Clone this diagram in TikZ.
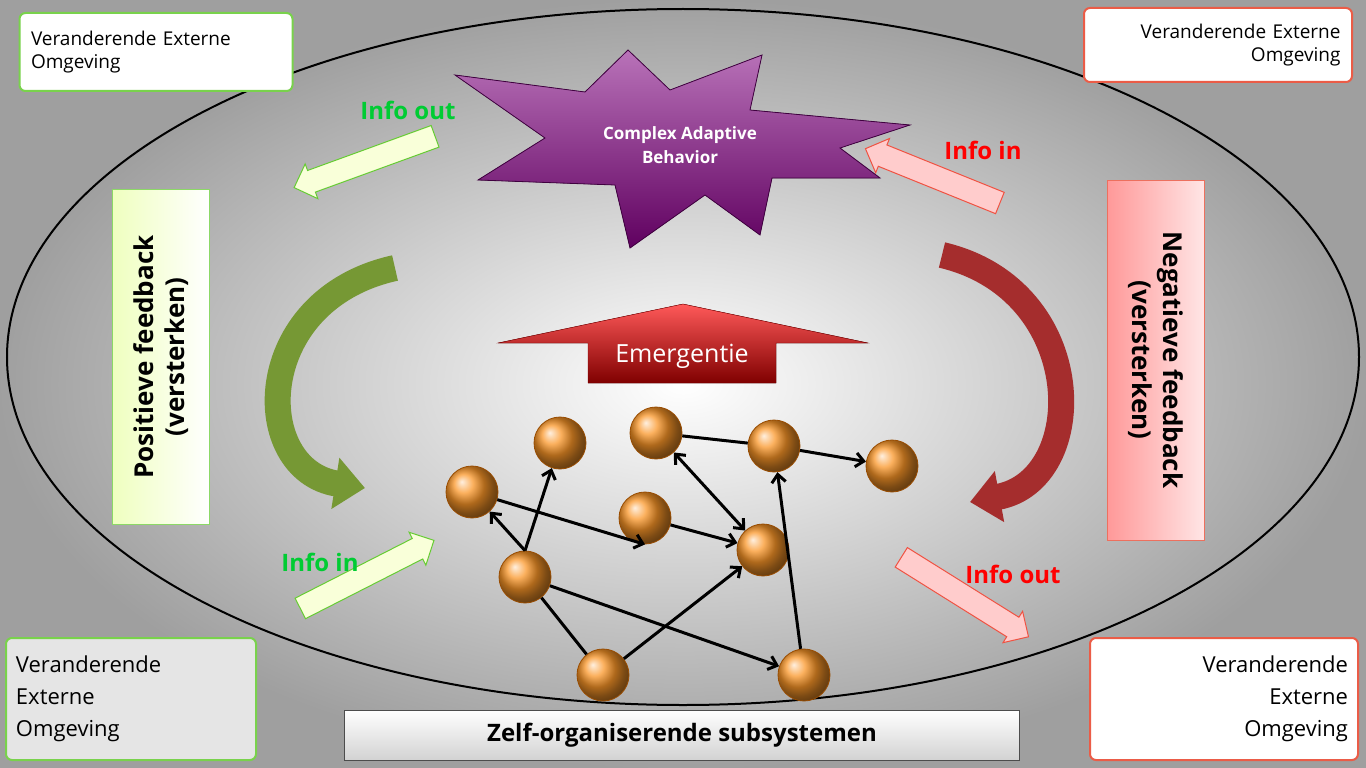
\documentclass[tikz,border=0pt]{standalone}
\usepackage{fontspec}
\setmainfont{Open Sans}
\usetikzlibrary{shapes.arrows,shapes.geometric,arrows.meta,shadings}
\definecolor{olivegreen}{RGB}{118,152,52}
\definecolor{darkred}{RGB}{165,45,45}
\definecolor{ballorange}{RGB}{250,150,40}
\begin{document}
\begin{tikzpicture}[x=1pt,y=-1pt,
  ball/.style={circle,minimum size=52pt,inner sep=0pt,ball color=ballorange,draw=orange!60!black,line width=0.8pt},
  edge/.style={line width=3pt,-{Straight Barb[length=8pt,width=14pt]}},
  dedge/.style={line width=3pt,{Straight Barb[length=8pt,width=14pt]}-{Straight Barb[length=8pt,width=14pt]}},
  plain/.style={line width=3pt},
  envg/.style={draw=green!50!olive!70,line width=2pt,rounded corners=6pt,fill=white,font=\fontsize{19}{23}\selectfont,align=left,inner sep=0pt},
  envr/.style={draw=red!60!brown!80,line width=2pt,rounded corners=6pt,fill=white,font=\fontsize{19}{23}\selectfont,inner sep=0pt},
  ginfo/.style={single arrow,draw=green!50!olive!80,fill=green!15!yellow!15,single arrow head extend=7pt,single arrow tip angle=90,inner sep=0pt,line width=1pt},
  rinfo/.style={single arrow,draw=red!70!brown!80,fill=red!20,single arrow head extend=7pt,single arrow tip angle=90,inner sep=0pt,line width=1pt},
  lbl/.style={font=\bfseries\fontsize{24}{28}\selectfont}]
\useasboundingbox (0,0) rectangle (1366,768);
\shade[inner color=white,outer color=gray!75] (0,0) rectangle (1366,768);
\node[draw,ellipse,line width=2pt,minimum width=1352pt,minimum height=696pt] (ell) at (683,357) {};
% env boxes
\node[envg,minimum width=273pt,minimum height=78pt,text width=250pt] (e1) at (156,52) {Veranderende Externe\\Omgeving};
\node[envr,minimum width=268pt,minimum height=74pt,align=right,text width=245pt] (e2) at (1218,45) {Veranderende Externe\\Omgeving};
\node[envg,fill=gray!20,minimum width=250pt,minimum height=122pt,text width=230pt,font=\fontsize{22}{32}\selectfont] (e3) at (131,699) {Veranderende\\Externe\\Omgeving};
\node[envr,fill=white,minimum width=268pt,minimum height=122pt,align=right,text width=248pt,font=\fontsize{22}{32}\selectfont] (e4) at (1224,699) {Veranderende\\Externe\\Omgeving};
% bottom bar
\node[draw=gray!60!black,top color=white,bottom color=gray!35,minimum width=675pt,minimum height=50pt,font=\bfseries\fontsize{24}{28}\selectfont] (bar) at (682,735) {Zelf-organiserende subsystemen};
% star
\filldraw[draw=violet!50!black,line width=0.8pt,top color=violet!55,bottom color=violet!75!black]
 (455,75) -- (585,92) -- (628,50) -- (670,90) -- (762,55) -- (750,110) -- (910,125) -- (840,148) -- (880,178) -- (772,178) -- (760,235) -- (705,195) -- (630,248) -- (615,185) -- (478,180) -- (545,138) -- cycle;
\node[white,font=\bfseries\fontsize{17}{24}\selectfont,align=center] (cab) at (680,145) {Complex Adaptive\\Behavior};
% feedback boxes
\node[draw=green!50!olive!60,left color=green!25!yellow!25,right color=white,minimum width=97pt,minimum height=335pt] (pos) at (161,357) {};
\node[rotate=90,font=\bfseries\fontsize{26}{31}\selectfont,align=center] at (pos) {Positieve feedback\\(versterken)};
\node[draw=red!60!brown!70,left color=red!40,right color=red!10,minimum width=97pt,minimum height=360pt] (neg) at (1156,360) {};
\node[rotate=-90,font=\bfseries\fontsize{26}{31}\selectfont,align=center] at (neg) {Negatieve feedback\\(versterken)};
% curved arrows
\draw[line width=26pt,olivegreen,-{Triangle[length=30pt,width=50pt]}] (395,268) .. controls (250,300) and (250,470) .. (365,488);
\draw[line width=26pt,darkred,-{Triangle[length=30pt,width=50pt]}] (942,255) .. controls (1090,290) and (1090,480) .. (970,502);
% emergentie
\filldraw[draw=red!50!black,top color=red!65,bottom color=red!50!black] (588,383) -- (588,343) -- (498,343) -- (683,304) -- (868,343) -- (776,343) -- (776,383) -- cycle;
\node[white,font=\fontsize{25}{30}\selectfont] (em) at (682,356) {Emergentie};
% info arrows
\node[ginfo,minimum height=150pt,rotate=200] (io1) at (370,160) {\rule{0pt}{22pt}};
\node[ginfo,minimum height=150pt,rotate=27] (ii1) at (362,577) {\rule{0pt}{22pt}};
\node[rinfo,minimum height=145pt,rotate=158] (ii2) at (938,178) {\rule{0pt}{22pt}};
\node[rinfo,minimum height=150pt,rotate=-32] (io2) at (960,594) {\rule{0pt}{22pt}};
\node[lbl,green!60!teal] at (408,110) {Info out};
\node[lbl,green!60!teal] at (320,562) {Info in};
\node[lbl,red] at (983,150) {Info in};
\node[lbl,red] at (1013,574) {Info out};
% network
\node[ball] (A) at (472,492) {};
\node[ball] (B) at (560,443) {};
\node[ball] (C) at (656,433) {};
\node[ball] (D) at (774,446) {};
\node[ball] (E) at (892,466) {};
\node[ball] (F) at (645,518) {};
\node[ball] (G) at (763,550) {};
\node[ball] (H) at (525,577) {};
\node[ball] (I) at (603,675) {};
\node[ball] (J) at (804,675) {};
\draw[edge] (A) -- (F.south);
\draw[edge] (H.north) -- (A);
\draw[edge] (H.north) -- (B);
\draw[plain] (H) -- (I);
\draw[edge] (H) -- (J);
\draw[edge] (I) -- (G);
\draw[edge] (F) -- (G);
\draw[dedge] (C) -- (G);
\draw[plain] (C) -- (D);
\draw[edge] (D) -- (E);
\draw[edge] (J) -- (D);
\end{tikzpicture}
\end{document}
